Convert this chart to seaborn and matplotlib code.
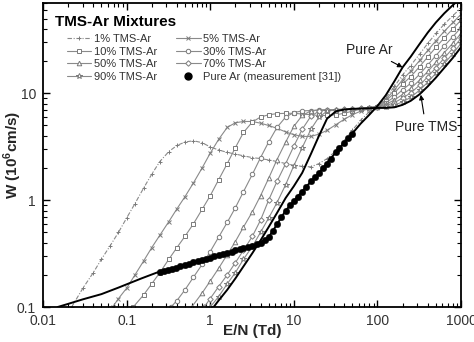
import numpy as np
import pandas as pd
import matplotlib
matplotlib.use("Agg")
import matplotlib.pyplot as plt
import seaborn as sns

# ---------------- data (E/N in Td, W in 1e6 cm/s) ----------------
HIGH_EN = [126, 160, 200, 250, 320, 400, 500, 630, 800, 1000]

en_1 = [0.022, 0.03, 0.04, 0.05, 0.063, 0.08, 0.1, 0.126, 0.16, 0.2, 0.25, 0.32, 0.4, 0.5, 0.63, 0.8,
        1.0, 1.26, 1.6, 2.0, 2.5, 3.2, 4.0, 5.0, 6.3, 8.0, 10, 12.6, 16, 20, 25, 32, 40, 50, 63, 80, 100] + HIGH_EN
w_1 = [0.1, 0.15, 0.21, 0.28, 0.37, 0.5, 0.68, 0.93, 1.3, 1.75, 2.3, 2.85, 3.25, 3.5, 3.6, 3.45,
       3.15, 2.95, 2.8, 2.7, 2.6, 2.5, 2.45, 2.38, 2.3, 2.2, 2.12, 2.07, 2.05, 2.2, 2.45, 2.9, 3.6, 4.5, 5.6, 6.7, 7.5,
       9.08, 11.6, 14.9, 18.2, 23.3, 29.3, 36.3, 44.3, 53.3, 63.1]

en_5 = [0.068, 0.08, 0.1, 0.126, 0.16, 0.2, 0.25, 0.32, 0.4, 0.5, 0.63, 0.8, 1.0, 1.26, 1.6, 2.0, 2.5, 3.2,
        4.0, 5.0, 6.3, 8.0, 10, 12.6, 16, 20, 25, 32, 40, 50, 63, 80, 100] + HIGH_EN
w_5 = [0.1, 0.12, 0.15, 0.2, 0.27, 0.36, 0.47, 0.63, 0.83, 1.08, 1.45, 2.0, 2.75, 3.7, 4.8, 5.3, 5.45, 5.45,
       5.25, 5.0, 4.7, 4.35, 4.1, 3.95, 3.95, 4.15, 4.5, 5.1, 5.7, 6.3, 6.8, 7.2, 7.5,
       8.77, 10.8, 13.4, 16.1, 20.3, 25.2, 31.0, 38.0, 46.0, 54.9]

en_10 = [0.12, 0.16, 0.2, 0.25, 0.32, 0.4, 0.5, 0.63, 0.8, 1.0, 1.26, 1.6, 2.0, 2.5, 3.2, 4.0, 5.0, 6.3,
         8.0, 10, 12.6, 16, 20, 25, 32, 40, 50, 63, 80, 100] + HIGH_EN
w_10 = [0.1, 0.13, 0.165, 0.21, 0.28, 0.36, 0.46, 0.6, 0.82, 1.1, 1.55, 2.2, 3.1, 4.3, 5.4, 6.0, 6.3, 6.45,
        6.5, 6.5, 6.4, 6.3, 6.2, 6.2, 6.3, 6.5, 6.8, 7.1, 7.35, 7.5,
        8.48, 10.1, 12.2, 14.3, 17.8, 21.9, 26.9, 33.0, 40.2, 48.4]

en_30 = [0.34, 0.4, 0.5, 0.63, 0.8, 1.0, 1.26, 1.6, 2.0, 2.5, 3.2, 4.0, 5.0, 6.3, 8.0, 10, 12.6, 16, 20,
         25, 32, 40, 50, 63, 80, 100] + HIGH_EN
w_30 = [0.1, 0.115, 0.145, 0.19, 0.25, 0.33, 0.45, 0.62, 0.85, 1.2, 1.75, 2.5, 3.5, 4.8, 6.0, 6.6, 6.85, 6.9, 6.95,
        7.0, 7.0, 7.05, 7.1, 7.2, 7.35, 7.5,
        8.14, 9.27, 10.8, 12.4, 15.1, 18.4, 22.5, 27.7, 33.9, 41.2]

en_50 = [0.6, 0.8, 1.0, 1.26, 1.6, 2.0, 2.5, 3.2, 4.0, 5.0, 6.3, 8.0, 10, 12.6, 16, 20, 25, 32, 40, 50,
         63, 80, 100] + HIGH_EN
w_50 = [0.1, 0.135, 0.175, 0.23, 0.31, 0.41, 0.56, 0.78, 1.1, 1.6, 2.4, 3.5, 4.9, 6.2, 6.85, 7.0, 7.0, 7.05, 7.1, 7.15,
        7.25, 7.35, 7.5,
        7.87, 8.67, 9.77, 11.1, 13.3, 16.0, 19.5, 24.0, 29.5, 36.3]

en_70 = [0.85, 1.0, 1.26, 1.6, 2.0, 2.5, 3.2, 4.0, 5.0, 6.3, 8.0, 10, 12.6, 16, 20, 25, 32, 40, 50, 63,
         80, 100] + HIGH_EN
w_70 = [0.1, 0.12, 0.155, 0.2, 0.26, 0.34, 0.46, 0.65, 1.0, 1.5, 2.2, 3.2, 4.6, 6.1, 6.8, 7.0, 7.05, 7.1, 7.15, 7.25,
        7.35, 7.5,
        7.66, 8.19, 9.02, 10.1, 11.9, 14.3, 17.3, 21.4, 26.4, 32.7]

en_90 = [1.0, 1.26, 1.6, 2.0, 2.5, 3.2, 4.0, 5.0, 6.3, 8.0, 10, 12.6, 16, 20, 25, 32, 40, 50, 63, 80,
         100] + HIGH_EN
w_90 = [0.1, 0.125, 0.165, 0.21, 0.28, 0.37, 0.5, 0.68, 0.95, 1.4, 2.1, 3.1, 4.6, 6.0, 6.8, 7.0, 7.05, 7.1, 7.2, 7.3,
        7.45,
        7.46, 7.74, 8.32, 9.16, 10.7, 12.7, 15.4, 19.0, 23.5, 29.4]

en_ar = [0.015, 0.02, 0.03, 0.05, 0.08, 0.1, 0.15, 0.23, 0.3, 0.5, 1.0, 2.0, 3.0, 4.0, 5.0, 6.0, 8.0, 10,
         14, 20, 30, 40, 50, 63, 80, 100, 126, 160, 200, 250, 320, 400, 500, 630, 800, 1000]
w_ar = [0.1, 0.107, 0.118, 0.132, 0.152, 0.163, 0.185, 0.21, 0.22, 0.25, 0.29, 0.34, 0.37, 0.40, 0.45, 0.56, 0.8, 0.98,
        1.33, 1.8, 2.65, 3.45, 4.2, 5.2, 6.3, 7.6, 9.6, 13, 17.5, 22, 29, 37, 46, 56, 67, 78]

en_tms = [1.1, 1.26, 1.6, 2.0, 2.5, 3.2, 4.0, 5.0, 6.3, 8.0, 10, 12.6, 16, 20, 25, 32, 40, 50, 63, 80, 100,
          126, 160, 200, 250, 320, 400, 500, 630, 800, 1000]
w_tms = [0.1, 0.115, 0.145, 0.185, 0.24, 0.32, 0.42, 0.56, 0.76, 1.05, 1.35, 1.8, 2.7, 4.0, 5.8, 6.8, 7.05, 7.15, 7.2,
         7.25, 7.3, 7.3, 7.4, 7.8, 8.5, 9.8, 11.6, 14.0, 17.3, 21.5, 27.0]

en_meas = [0.25, 0.28, 0.31, 0.35, 0.39, 0.44, 0.5, 0.56, 0.63, 0.71, 0.8, 0.9, 1.0, 1.12, 1.26, 1.41, 1.6, 1.8,
           2.0, 2.25, 2.5, 2.8, 3.2, 3.6, 4.0, 4.5, 5.0, 5.6, 6.3, 7.1, 8.0, 9.0, 10, 11.2, 12.6, 14.1, 16, 18,
           20, 22.4, 25, 28, 32, 35, 40, 45, 50]
w_meas = [0.212, 0.218, 0.222, 0.228, 0.234, 0.241, 0.248, 0.255, 0.262, 0.27, 0.276, 0.283, 0.29, 0.297, 0.304,
          0.312, 0.32, 0.33, 0.338, 0.347, 0.355, 0.364, 0.375, 0.387, 0.40, 0.42, 0.45, 0.51, 0.6, 0.7, 0.8, 0.9,
          0.98, 1.08, 1.2, 1.34, 1.5, 1.65, 1.8, 2.0, 2.2, 2.45, 2.8, 3.05, 3.45, 3.85, 4.2]

mix_labels = ["1% TMS-Ar", "5% TMS-Ar", "10% TMS-Ar", "30% TMS-Ar",
              "50% TMS-Ar", "70% TMS-Ar", "90% TMS-Ar"]
mix_en = [en_1, en_5, en_10, en_30, en_50, en_70, en_90]
mix_w = [w_1, w_5, w_10, w_30, w_50, w_70, w_90]
meas_label = "Pure Ar (measurement [31])"

# ---------------- style ----------------
sns.set_style("ticks")
plt.rcParams["font.family"] = ["Liberation Sans", "DejaVu Sans"]
plt.rcParams["mathtext.fontset"] = "custom"
plt.rcParams["mathtext.bf"] = "Liberation Sans:bold"
plt.rcParams["mathtext.rm"] = "Liberation Sans"

GRAY = "#8a8a8a"
MGRAY = "#7a7a7a"
mix_style = {
    "1% TMS-Ar": dict(marker="+", ls=(0, (4, 1.5, 1, 1.5)), ms=3.5, mfc=MGRAY),
    "5% TMS-Ar": dict(marker="x", ls="-", ms=3.0, mfc=MGRAY),
    "10% TMS-Ar": dict(marker="s", ls="-", ms=3.0, mfc="white"),
    "30% TMS-Ar": dict(marker="o", ls="-", ms=3.2, mfc="white"),
    "50% TMS-Ar": dict(marker="^", ls="-", ms=3.3, mfc="white"),
    "70% TMS-Ar": dict(marker="D", ls="-", ms=2.8, mfc="white"),
    "90% TMS-Ar": dict(marker="*", ls="-", ms=4.0, mfc="white"),
}

fig = plt.figure(figsize=(4.74, 3.42), dpi=100)
ax = fig.add_axes([0.0907, 0.1023, 0.8819, 0.8889])

handles = {}
for lab, xs, ys in zip(mix_labels, mix_en, mix_w):
    st = mix_style[lab]
    df = pd.DataFrame({"E/N": xs, "W": ys})
    sns.lineplot(data=df, x="E/N", y="W", ax=ax, color=GRAY, lw=0.8,
                 linestyle=st["ls"], marker=st["marker"], markersize=st["ms"],
                 markerfacecolor=st["mfc"], markeredgecolor=MGRAY, markeredgewidth=0.7,
                 sort=False, estimator=None, label=lab, zorder=2)
    handles[lab] = ax.lines[-1]

# calculated pure gases
sns.lineplot(x=en_ar, y=w_ar, ax=ax, color="black", lw=1.4, sort=False, estimator=None, zorder=3)
sns.lineplot(x=en_tms, y=w_tms, ax=ax, color="black", lw=1.4, sort=False, estimator=None, zorder=3)

# measured pure Ar
sns.scatterplot(x=en_meas, y=w_meas, ax=ax, color="black", s=22, edgecolor="black",
                linewidth=0.3, zorder=4, label=meas_label)
meas_handle = plt.Line2D([], [], ls="none", marker="o", color="black", ms=5)

ax.set_xscale("log")
ax.set_yscale("log")
ax.set_xlim(0.01, 1000)
ax.set_ylim(0.1, 70)

ax.set_xticks([0.01, 0.1, 1, 10, 100, 1000])
ax.set_xticklabels(["0.01", "0.1", "1", "10", "100", "1000"])
ax.set_yticks([0.1, 1, 10])
ax.set_yticklabels(["0.1", "1", "10"])
ax.tick_params(which="both", direction="in", top=True, right=True, colors="black",
               labelcolor="#333333", labelsize=10)
ax.tick_params(which="major", length=5, width=1.0, pad=5)
ax.tick_params(which="minor", length=3, width=0.8)
for sp in ax.spines.values():
    sp.set_linewidth(1.3)
    sp.set_color("black")

ax.set_xlabel("E/N (Td)", fontsize=11, fontweight="bold")
ax.set_ylabel(r"W (10$^{\mathbf{6}}$cm/s)", fontsize=11, fontweight="bold")
ax.xaxis.set_label_coords(0.5, -0.055)
ax.xaxis.label.set_va("top")
ax.yaxis.set_label_coords(-0.073, 0.5)
ax.yaxis.label.set_va("center")

# legend heading and two-column key (filled column-wise)
ax.text(0.029, 0.9375, "TMS-Ar Mixtures", transform=ax.transAxes, fontsize=11,
        fontweight="bold", ha="left", va="center", color="black")
order = ["1% TMS-Ar", "10% TMS-Ar", "50% TMS-Ar", "90% TMS-Ar",
         "5% TMS-Ar", "30% TMS-Ar", "70% TMS-Ar"]
leg_handles = [handles[k] for k in order] + [meas_handle]
leg_labels = order + [meas_label]
leg = ax.legend(leg_handles, leg_labels, ncol=2, loc="upper left",
                bbox_to_anchor=(0.057, 0.897), frameon=False, fontsize=8,
                handlelength=2.2, handletextpad=0.25, borderpad=0.0,
                columnspacing=1.7, labelspacing=0.22, borderaxespad=0.0)
for t in leg.get_texts():
    t.set_color("#333333")

# annotations for pure gases
ax.annotate("Pure Ar", xy=(200, 17.5), xytext=(80, 25.5), fontsize=10,
            ha="center", va="center", color="#222222",
            arrowprops=dict(arrowstyle="-|>", color="black", lw=0.8,
                            mutation_scale=7, shrinkA=2, shrinkB=0))
ax.annotate("Pure TMS", xy=(330, 9.7), xytext=(380, 4.85), fontsize=10,
            ha="center", va="center", color="#222222",
            arrowprops=dict(arrowstyle="-|>", color="black", lw=0.8,
                            mutation_scale=7, shrinkA=2, shrinkB=0))

fig.savefig("out.png", dpi=100)
